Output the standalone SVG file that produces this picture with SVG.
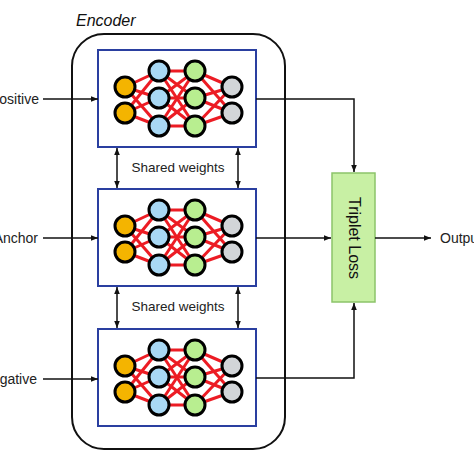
<svg xmlns="http://www.w3.org/2000/svg" xmlns:xlink="http://www.w3.org/1999/xlink" width="474" height="474" viewBox="0 0 474 474">
<style>
.lbl{font-family:"Liberation Sans","DejaVu Sans",sans-serif;font-size:14px;fill:#222}
.sw{font-family:"Liberation Sans","DejaVu Sans",sans-serif;font-size:13.5px;fill:#222}
.conn{stroke:#111;stroke-width:1.5;fill:none}
.box{fill:#fff;stroke:#2a3fa0;stroke-width:2}
.e{stroke:#ec1c24;stroke-width:3}
.n{stroke:#000;stroke-width:3}
</style>
<defs>
<marker id="ah" viewBox="0 0 10 10" refX="10" refY="5" markerWidth="7" markerHeight="7" orient="auto-start-reverse" markerUnits="userSpaceOnUse">
<path d="M0,1 L10,5 L0,9 z" fill="#111"/>
</marker>
<g id="net">
<g class="e">
<line x1="27" y1="37" x2="61" y2="21"/><line x1="27" y1="37" x2="61" y2="48"/><line x1="27" y1="37" x2="61" y2="76"/>
<line x1="27" y1="63" x2="61" y2="21"/><line x1="27" y1="63" x2="61" y2="48"/><line x1="27" y1="63" x2="61" y2="76"/>
<line x1="61" y1="21" x2="97" y2="21"/><line x1="61" y1="21" x2="97" y2="48"/><line x1="61" y1="21" x2="97" y2="76"/>
<line x1="61" y1="48" x2="97" y2="21"/><line x1="61" y1="48" x2="97" y2="48"/><line x1="61" y1="48" x2="97" y2="76"/>
<line x1="61" y1="76" x2="97" y2="21"/><line x1="61" y1="76" x2="97" y2="48"/><line x1="61" y1="76" x2="97" y2="76"/>
<line x1="97" y1="21" x2="134" y2="37"/><line x1="97" y1="21" x2="134" y2="63"/>
<line x1="97" y1="48" x2="134" y2="37"/><line x1="97" y1="48" x2="134" y2="63"/>
<line x1="97" y1="76" x2="134" y2="37"/><line x1="97" y1="76" x2="134" y2="63"/>
</g>
<g class="n">
<circle cx="27" cy="37" r="10" fill="#f4b400"/><circle cx="27" cy="63" r="10" fill="#f4b400"/>
<circle cx="61" cy="21" r="10" fill="#a8d8f4"/><circle cx="61" cy="48" r="10" fill="#a8d8f4"/><circle cx="61" cy="76" r="10" fill="#a8d8f4"/>
<circle cx="97" cy="21" r="10" fill="#b8ee90"/><circle cx="97" cy="48" r="10" fill="#b8ee90"/><circle cx="97" cy="76" r="10" fill="#b8ee90"/>
<circle cx="134" cy="37" r="10" fill="#d2d5d8"/><circle cx="134" cy="63" r="10" fill="#d2d5d8"/>
</g>
</g>
</defs>
<rect width="474" height="474" fill="#fff"/>

<g id="encoder">
<rect x="72" y="34" width="213" height="415" rx="32" ry="32" fill="none" stroke="#111" stroke-width="2"/>
<text x="76" y="26" font-family="Liberation Sans, sans-serif" font-style="italic" font-size="16" fill="#111">Encoder</text>
</g>

<g id="enc-positive">
<rect class="box" x="98" y="50" width="158" height="97"/>
<use xlink:href="#net" x="98" y="50"/>
</g>
<g id="enc-anchor">
<rect class="box" x="98" y="189" width="158" height="97"/>
<use xlink:href="#net" x="98" y="189"/>
</g>
<g id="enc-negative">
<rect class="box" x="98" y="329" width="158" height="97"/>
<use xlink:href="#net" x="98" y="329"/>
</g>

<g id="triplet-loss">
<rect x="332" y="173" width="43" height="129" fill="#c8f0a4" stroke="#8cc46a" stroke-width="1.5"/>
<text transform="translate(354,238) rotate(90)" text-anchor="middle" dominant-baseline="central" font-family="Liberation Sans, sans-serif" font-size="16" fill="#111">Triplet Loss</text>
</g>

<g id="labels">
<text class="lbl" x="39" y="104" text-anchor="end">Positive</text>
<text class="lbl" x="38" y="243" text-anchor="end">Anchor</text>
<text class="lbl" x="37" y="384" text-anchor="end">Negative</text>
<text class="lbl" x="440" y="243">Output</text>
<text class="sw" x="178" y="172" text-anchor="middle">Shared weights</text>
<text class="sw" x="178" y="311" text-anchor="middle">Shared weights</text>
</g>

<g id="connectors">
<line class="conn" x1="43" y1="99" x2="98" y2="99" marker-end="url(#ah)"/>
<line class="conn" x1="43" y1="238" x2="98" y2="238" marker-end="url(#ah)"/>
<line class="conn" x1="43" y1="379" x2="98" y2="379" marker-end="url(#ah)"/>
<line class="conn" x1="117" y1="148" x2="117" y2="188" marker-start="url(#ah)" marker-end="url(#ah)"/>
<line class="conn" x1="238" y1="148" x2="238" y2="188" marker-start="url(#ah)" marker-end="url(#ah)"/>
<line class="conn" x1="117" y1="287" x2="117" y2="328" marker-start="url(#ah)" marker-end="url(#ah)"/>
<line class="conn" x1="238" y1="287" x2="238" y2="328" marker-start="url(#ah)" marker-end="url(#ah)"/>
<polyline class="conn" points="256,99 354,99 354,172" marker-end="url(#ah)"/>
<line class="conn" x1="256" y1="238" x2="331" y2="238" marker-end="url(#ah)"/>
<polyline class="conn" points="256,378 354,378 354,303" marker-end="url(#ah)"/>
<line class="conn" x1="375" y1="238" x2="431" y2="238" marker-end="url(#ah)"/>
</g>
</svg>
